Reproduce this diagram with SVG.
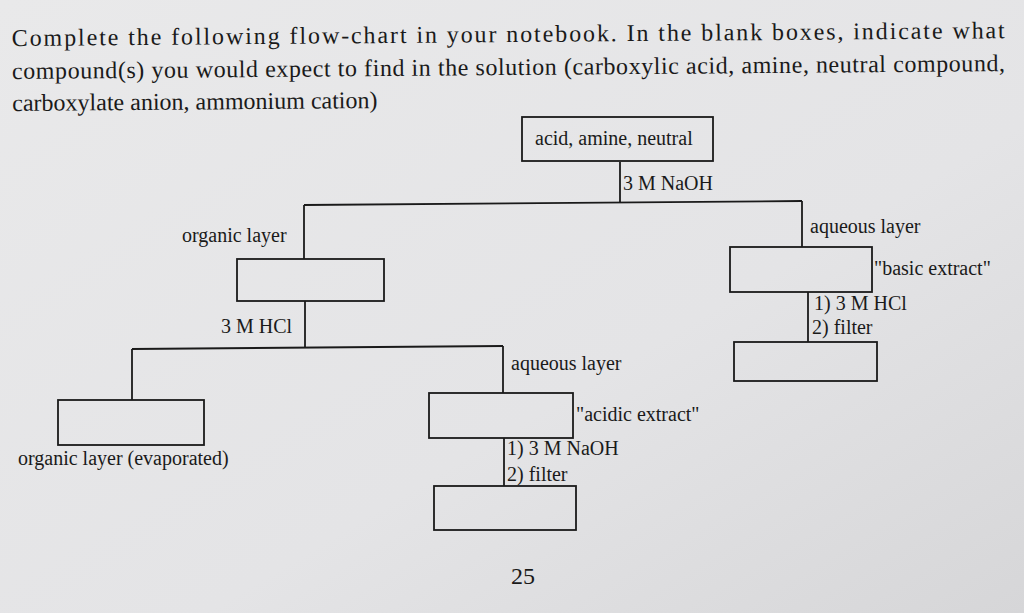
<svg xmlns="http://www.w3.org/2000/svg" width="1024" height="613" viewBox="0 0 1024 613">
<defs>
<linearGradient id="bg" x1="0" y1="0" x2="1" y2="1">
<stop offset="0" stop-color="#e9e9ea"/><stop offset="0.6" stop-color="#e4e4e6"/><stop offset="1" stop-color="#d6d6d8"/>
</linearGradient>
</defs>
<style>
text{font-family:"Liberation Serif","Times New Roman",serif;fill:#1a1a1a}
.h{font-size:24px}
.l{font-size:20px}
.b{fill:none;stroke:#1a1a1a;stroke-width:1.8}
.c line{stroke:#1a1a1a;stroke-width:1.8}
</style>
<rect width="1024" height="613" fill="url(#bg)"/>
<g transform="rotate(-0.45 512 70)">
<text class="h" x="12" y="42" textLength="993" lengthAdjust="spacing">Complete the following flow-chart in your notebook. In the blank boxes, indicate what</text>
<text class="h" x="12" y="75" textLength="993" lengthAdjust="spacing">compound(s) you would expect to find in the solution (carboxylic acid, amine, neutral compound,</text>
<text class="h" x="12" y="107">carboxylate anion, ammonium cation)</text>
</g>
<g class="c">
<line x1="620" y1="162" x2="620" y2="203"/>
<line x1="304" y1="205" x2="802" y2="201"/>
<line x1="304" y1="205" x2="304" y2="259"/>
<line x1="802" y1="201" x2="802" y2="247"/>
<line x1="808" y1="292" x2="808" y2="342"/>
<line x1="305" y1="301" x2="305" y2="348"/>
<line x1="132" y1="349" x2="503" y2="346"/>
<line x1="132" y1="349" x2="132" y2="400"/>
<line x1="503" y1="346" x2="503" y2="393"/>
<line x1="504" y1="438" x2="504" y2="486"/>
</g>
<g id="n1"><rect class="b" x="522" y="117" width="191" height="44"/><text class="l" x="535" y="145">acid, amine, neutral</text></g>
<g id="n2"><rect class="b" x="237" y="259" width="147" height="42"/></g>
<g id="n3"><rect class="b" x="730" y="247" width="142" height="45"/></g>
<g id="n4"><rect class="b" x="734" y="342" width="143" height="39"/></g>
<g id="n5"><rect class="b" x="58" y="400" width="146" height="45"/></g>
<g id="n6"><rect class="b" x="429" y="393" width="144" height="45"/></g>
<g id="n7"><rect class="b" x="434" y="486" width="142" height="44"/></g>
<text class="l" x="623" y="190">3 M NaOH</text>
<text class="l" x="182" y="242">organic layer</text>
<text class="l" x="810" y="233">aqueous layer</text>
<text class="l" x="874" y="275">"basic extract"</text>
<text class="l" x="814" y="310">1) 3 M HCl</text>
<text class="l" x="812" y="334">2) filter</text>
<text class="l" x="221" y="333">3 M HCl</text>
<text class="l" x="511" y="370">aqueous layer</text>
<text class="l" x="576" y="421">"acidic extract"</text>
<text class="l" x="18" y="465">organic layer (evaporated)</text>
<text class="l" x="507" y="455">1) 3 M NaOH</text>
<text class="l" x="507" y="481">2) filter</text>
<text class="h" x="511" y="584">25</text>
</svg>
